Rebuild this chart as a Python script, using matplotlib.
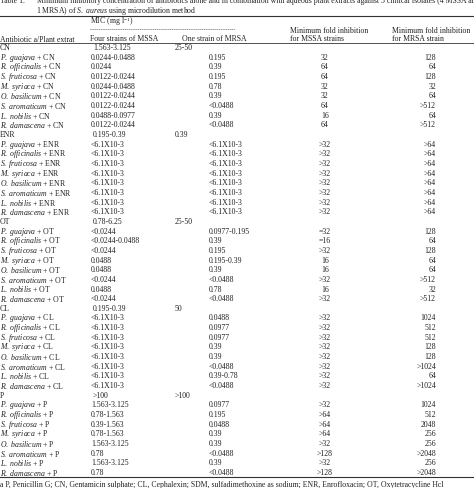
import matplotlib
matplotlib.use("Agg")
import matplotlib.pyplot as plt

plt.rcParams['font.family'] = ['Liberation Serif', 'DejaVu Serif']
plt.rcParams['mathtext.fontset'] = 'custom'
plt.rcParams['mathtext.rm'] = 'Liberation Serif'
plt.rcParams['mathtext.it'] = 'Liberation Serif:italic'

antibiotics = ["CN", "ENR", "OT", "CL", "P"]
plants = ["P. guajava", "R. officinalis", "S. fruticosa", "M. syriaca",
          "O. basilicum", "S. aromaticum", "L. nobilis", "R. damascena"]
base_mssa = ["1.563-3.125", "0.195-0.39", "0.78-6.25", "0.195-0.39", ">100"]
base_mrsa = ["25-50", "0.39", "25-50", "50", ">100"]
mssa_mic = [
    ["0.0244-0.0488", "0.0244", "0.0122-0.0244", "0.0244-0.0488", "0.0122-0.0244", "0.0122-0.0244", "0.0488-0.0977", "0.0122-0.0244"],
    ["<6.1X10-3"] * 8,
    ["<0.0244", "<0.0244-0.0488", "<0.0244", "0.0488", "0.0488", "<0.0244", "0.0488", "<0.0244"],
    ["<6.1X10-3"] * 8,
    ["1.563-3.125", "0.78-1.563", "0.39-1.563", "0.78-1.563", "1.563-3.125", "0.78", "1.563-3.125", "0.78"],
]
mrsa_mic = [
    ["0.195", "0.39", "0.195", "0.78", "0.39", "<0.0488", "0.39", "<0.0488"],
    ["<6.1X10-3"] * 8,
    ["0.0977-0.195", "0.39", "0.195", "0.195-0.39", "0.39", "<0.0488", "0.78", "<0.0488"],
    ["0.0488", "0.0977", "0.0977", "0.39", "0.39", "<0.0488", "0.39-0.78", "<0.0488"],
    ["0.0977", "0.195", "0.0488", "0.39", "0.39", "<0.0488", "0.39", "<0.0488"],
]
fold_mssa = [
    ["32", "64", "64", "32", "32", "64", "16", "64"],
    [">32"] * 8,
    ["=32", "=16", ">32", "16", "16", ">32", "16", ">32"],
    [">32"] * 8,
    [">32", ">64", ">64", ">64", ">32", ">128", ">32", ">128"],
]
fold_mrsa = [
    ["128", "64", "128", "32", "64", ">512", "64", ">512"],
    [">64"] * 8,
    ["128", "64", "128", "64", "64", ">512", "32", ">512"],
    ["1024", "512", "512", "128", "128", ">1024", "64", ">1024"],
    ["1024", "512", "2048", "256", "256", ">2048", "256", ">2048"],
]

W, H = 474, 489
fig = plt.figure(figsize=(W / 100, H / 100), dpi=100)
ax = fig.add_axes([0, 0, 1, 1])
ax.set_xlim(0, W)
ax.set_ylim(H, 0)
ax.axis('off')
fs = 5.6

def t(x, y, s, ha='left', **kw):
    ax.text(x, y, s, ha=ha, va='center', fontsize=fs, color='#222222', **kw)

t(0, 1, "Table 1.      Minimum inhibitory concentration of antibiotics alone and in combination with aqueous plant extracts against 5 clinical isolates (4 MSSA and")
t(36, 11, r"1 MRSA) of $\mathit{S.\ aureus}$ using microdilution method")
ax.plot([0, W], [16.5, 16.5], color='#333333', lw=0.8)
t(90, 22, r"MIC (mg l$^{-1}$)")
ax.text(90, 30, "-" * 78, fontsize=4.0, va='center', color='#333333')
t(290, 31, "Minimum fold inhibition")
t(290, 39, "for MSSA strains")
t(392, 31, "Minimum fold inhibition")
t(392, 39, "for MRSA strain")
t(0, 40, "Antibiotic a/Plant extrat")
t(90, 39, "Four strains of MSSA")
t(182, 39, "One strain of MRSA")
ax.plot([0, W], [44, 44], color='#333333', lw=0.6)

y0, dy = 48, 9.66
r = 0
for i, ab in enumerate(antibiotics):
    y = y0 + r * dy
    t(0, y, ab)
    t(93, y, base_mssa[i])
    t(175, y, base_mrsa[i])
    r += 1
    for j, pl in enumerate(plants):
        y = y0 + r * dy
        name = pl.replace(" ", r"\ ")
        t(0, y, r"$\mathit{" + name + "}$ + " + ab)
        t(91, y, mssa_mic[i][j])
        t(209, y, mrsa_mic[i][j])
        t(325, y, fold_mssa[i][j], ha='center')
        t(436, y, fold_mrsa[i][j], ha='right')
        r += 1

yb = y0 + (r - 1) * dy + 5
ax.plot([0, W], [yb, yb], color='#333333', lw=0.8)
t(0, yb + 7, "a P, Penicillin G; CN, Gentamicin sulphate; CL, Cephalexin; SDM, sulfadimethoxine as sodium; ENR, Enrofloxacin; OT, Oxytetracycline Hcl")

fig.savefig("out.png", dpi=100)
